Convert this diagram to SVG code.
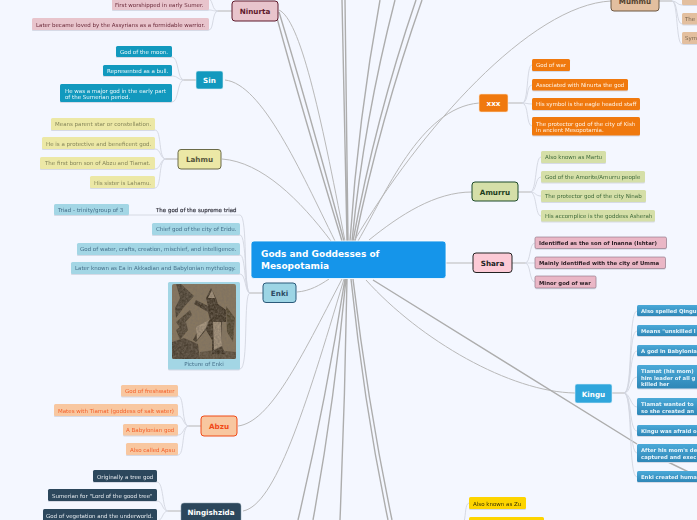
<svg xmlns="http://www.w3.org/2000/svg" width="697" height="520" viewBox="0 0 697 520">
<style>
text{font-family:"DejaVu Sans",Verdana,sans-serif;font-size:5.5px}
.t{font-size:7.2px;font-weight:bold;text-anchor:middle}
.m{fill:none;stroke:#b9b9b9;stroke-width:1}
.s{fill:none;stroke:#adadad;stroke-width:1.4}
.l{fill:none;stroke:#d3d6e0;stroke-width:.9}
.st{fill:none;stroke:#b5b5b5;stroke-width:1.2}
.shadow{filter:drop-shadow(0 1px 0 #d6dae6)}
</style>
<defs>
<linearGradient id="kg" x1="0" y1="0" x2="0" y2="1"><stop offset="0" stop-color="#4aa9d8"/><stop offset="1" stop-color="#2f87b7"/></linearGradient>
<filter id="noise" x="0" y="0" width="100%" height="100%"><feTurbulence type="fractalNoise" baseFrequency="0.45" numOctaves="2" seed="4"/><feColorMatrix values="0 0 0 0 .2 0 0 0 0 .16 0 0 0 0 .12 1.2 0 0 0 -.3"/></filter>
<filter id="soft" x="-10%" y="-10%" width="120%" height="120%"><feGaussianBlur stdDeviation=".6"/></filter>
<clipPath id="pc"><rect x="172" y="284" width="64" height="75" rx="2"/></clipPath>
</defs>
<rect width="697" height="520" fill="#f4f7ff"/>
<g id="connectors">
<path class="s" d="M277 18Q302 110 342 241M279 12Q306 100 344 241"/>
<path class="s" d="M342 0Q345 120 347 241M345 0Q346 120 348 241"/>
<path class="s" d="M380 0Q358 120 350 241M395 0Q364 120 352 241"/>
<path class="s" d="M416 0Q375 120 353 241M422 0Q380 120 355 241"/>
<path class="m" d="M279 10C300 20 320 110 345 241"/>
<path class="m" d="M225 80C262 84 300 170 335 241"/>
<path class="m" d="M222 159C262 162 300 200 331 241"/>
<path class="m" d="M297 292C310 291 320 285 329 279"/>
<path class="m" d="M238 426C270 422 300 360 342 279"/>
<path class="m" d="M243 511C275 505 305 410 344 279"/>
<path class="s" d="M345 279Q325 405 298 520M346 279Q334 405 313 520M347 279Q345 400 340 520"/>
<path class="s" d="M351 279Q364 405 388 520M353 279Q368 405 392 520"/>
<path class="m" d="M354 241C420 130 530 5 611 1"/>
<path class="m" d="M358 241C385 195 420 108 479 103"/>
<path class="m" d="M369 240C400 215 435 192 472 192"/>
<path class="m" d="M446 263H473"/>
<path class="m" d="M366 280C420 340 510 392 575 393"/>
<path class="s" d="M373 280L637 444M668 462L697 476"/>
<path class="st" d="M232 11H218M196 80H184M178 159H166M263 293H250M201 426H189M181 511H168M659 1H672M508 103H522M518 192H530M512 263H525M612 393H624"/>
<path class="l" d="M218 11C212 11 213 0 209 -1"/>
<path class="l" d="M218 11C212 11 213 10 209 10H112"/>
<path class="l" d="M218 11C212 11 214 30 209 30H32"/>
<path class="l" d="M184 80C177 80 179 57 172 57H116M184 80C178 80 178 76 172 76H103M184 80C177 80 179 102 172 102H60"/>
<path class="l" d="M166 159C158 159 162 130 155 130H51M166 159C160 159 161 149 155 149H42M166 159C160 159 161 169 155 169H40M166 159C158 159 162 188 155 188H90"/>
<path class="l" d="M250 293C243 293 248 215 240 215H54M250 293C244 293 247 235 240 235H152M250 293C244 293 246 255 240 255H77M250 293C245 293 246 274 240 274H71M250 293C243 293 249 369 240 369H168"/>
<path class="l" d="M189 426C181 426 185 396 178 396H121M189 426C183 426 184 416 178 416H54M189 426C183 426 184 435 178 435H123M189 426C181 426 185 455 178 455H126"/>
<path class="l" d="M168 511C162 511 164 482 157 482H93M168 511C162 511 163 501 157 501H48M168 511C162 511 163 521 157 521"/>
<path class="l" d="M672 1C677 1 677 5 682 5M672 1C678 1 676 24 682 24M672 1C678 1 676 44 682 44"/>
<path class="l" d="M522 103C529 103 526 65 532 65M522 103C529 103 526 85 532 85M522 103C527 103 527 104 532 104M522 103C529 103 526 126 532 126"/>
<path class="l" d="M530 192C537 192 535 157 541 157M530 192C537 192 535 177 541 177M530 192C536 192 535 196 541 196M530 192C537 192 535 216 541 216"/>
<path class="l" d="M525 263C531 263 529 243 535 243M525 263H535M525 263C531 263 529 282 535 282"/>
<path class="l" d="M624 393C633 393 628 311 637 311M624 393C633 393 628 331 637 331M624 393C632 393 629 351 637 351M624 393C631 393 630 377 637 377M624 393C630 393 631 407 637 407M624 393C632 393 629 431 637 431M624 393C632 393 629 453 637 453M624 393C633 393 628 477 637 477"/>
<path class="l" d="M469 503C465 504 466 514 464 522"/>
</g>
<g id="n-hub"><rect x="251" y="241" width="195" height="37.500" rx="3" fill="#1595ea" stroke="#fff" stroke-width=".8"/><text x="261" y="257" style="font-size:9px;font-weight:bold" fill="#fff">Gods and Goddesses of</text><text x="261" y="269" style="font-size:9px;font-weight:bold" fill="#fff">Mesopotamia</text></g>
<g id="n-ninurta"><rect x="232" y="1" width="46" height="20" rx="3" fill="#e8c4cc" stroke="#5e1a2c"/><text class="t" x="255" y="14" fill="#5e1a2c">Ninurta</text></g>
<g id="l-ninurta" fill="#e8c4cc" class="shadow"><rect x="112" y="-2" width="97" height="12" rx="1.500"/><rect x="32" y="18" width="177" height="12" rx="1.500"/><text x="115" y="7" fill="#6b2a3a">First worshipped in early Sumer.</text><text x="36" y="27" fill="#6b2a3a">Later became loved by the Assyrians as a formidable warrior.</text></g>
<g id="n-sin"><rect x="196" y="71" width="27" height="18" rx="2" fill="#1299be" stroke="#dff0f5" stroke-width=".6"/><text class="t" x="209.500" y="83" fill="#fff">Sin</text></g>
<g id="l-sin" fill="#1299be" class="shadow"><rect x="116" y="46" width="56" height="11" rx="1.500"/><rect x="103" y="65" width="69" height="11" rx="1.500"/><rect x="60" y="84" width="112" height="18" rx="1.500"/><g fill="#eaf7fb"><text x="120" y="54">God of the moon.</text><text x="107" y="73">Represented as a bull.</text><text x="65" y="93">He was a major god in the early part</text><text x="65" y="99">of the Sumerian period.</text></g></g>
<g id="n-lahmu"><rect x="178" y="149.500" width="43" height="19.500" rx="3" fill="#ece8a6" stroke="#6b6b48"/><text class="t" x="199.500" y="162" fill="#55553c">Lahmu</text></g>
<g id="l-lahmu" fill="#ece8a6" class="shadow"><rect x="51" y="118" width="104" height="12" rx="1.500"/><rect x="42" y="137" width="113" height="12" rx="1.500"/><rect x="40" y="157" width="115" height="12" rx="1.500"/><rect x="90" y="176" width="65" height="12" rx="1.500"/><g fill="#86865a"><text x="55" y="126">Means parent star or constellation.</text><text x="46" y="146">He is a protective and beneficent god.</text><text x="45" y="165">The first born son of Abzu and Tiamat.</text><text x="94" y="185">His sister is Lahamu.</text></g></g>
<g id="n-enki"><rect x="263" y="283" width="33" height="19.500" rx="3" fill="#9dd5e5" stroke="#2b5a7a"/><text class="t" x="279.500" y="296" fill="#2c4a62">Enki</text></g>
<g id="l-enki" fill="#a3d6e5" class="shadow"><rect x="54" y="204" width="75" height="11" rx="1.500"/><rect x="152" y="223" width="88" height="12" rx="1.500"/><rect x="77" y="243" width="163" height="12" rx="1.500"/><rect x="71" y="262" width="169" height="12" rx="1.500"/><rect x="168" y="282" width="72" height="87.500" rx="1.500"/><g fill="#46708a"><text x="58" y="212">Triad - trinity/group of 3</text><text x="156" y="231">Chief god of the city of Eridu.</text><text x="80" y="251">God of water, crafts, creation, mischief, and intelligence.</text><text x="75" y="270">Later known as Ea in Akkadian and Babylonian mythology.</text><text x="204" y="366" text-anchor="middle">Picture of Enki</text></g><text x="156" y="212" fill="#3a3a44" stroke="#3a3a44" stroke-width=".15">The god of the supreme triad</text></g>
<g id="enki-picture" clip-path="url(#pc)">
<rect x="172" y="284" width="64" height="75" fill="#87775f"/>
<g filter="url(#soft)">
<path d="M172 342L184 338L198 344L200 359H172Z" fill="#4c4030"/>
<path d="M200 352L214 350L236 352V359H200Z" fill="#5c4f3e"/>
<path d="M176 284L181 284L194 296L184 307L176 318L175 308L180 298Z" fill="#4a3f30"/>
<path d="M176 330L186 322L188 330L180 340ZM176 322L190 310L192 315L180 328Z" fill="#4e4333"/>
<path d="M211 288L216 298L218 304L226 310L226 322L222 322L222 346L225 354L212 354L212 340L206 330L196 342L193 340L200 326L210 320L208 312L194 304L196 300L208 306L206 298Z" fill="#3f3426"/>
<path d="M212 290L215 298L208 298ZM213 322L221 322L222 346L214 350Z" fill="#a6957e"/>
<path d="M196 327L209 320L206 328L197 340Z" fill="#a6957e"/>
<path d="M226 306L235 318L233 342L227 332Z" fill="#50442f"/>
</g>
<rect x="172" y="284" width="64" height="75" filter="url(#noise)"/>
</g>
<g id="n-abzu"><rect x="201" y="416" width="36" height="20" rx="3" fill="#f8c7a0" stroke="#f04a17"/><text class="t" x="219" y="429" fill="#f04a17">Abzu</text></g>
<g id="l-abzu" fill="#f8c7a0" class="shadow"><rect x="121" y="385" width="57" height="11.500" rx="1.500"/><rect x="54" y="404" width="124" height="12" rx="1.500"/><rect x="123" y="424" width="55" height="11.500" rx="1.500"/><rect x="126" y="443" width="52" height="12" rx="1.500"/><g fill="#f4602a"><text x="125" y="393">God of freshwater</text><text x="58" y="413">Mates with Tiamat (goddess of salt water)</text><text x="126" y="432">A Babylonian god</text><text x="130" y="452">Also called Apsu</text></g></g>
<g id="n-ningishzida"><rect x="181" y="503" width="60" height="24" rx="3" fill="#2c475c" stroke="#8fa0ad" stroke-width=".5"/><text class="t" x="211" y="515" fill="#fff">Ningishzida</text></g>
<g id="l-ningishzida" fill="#2c475c" class="shadow"><rect x="93" y="470" width="64" height="12" rx="1.500"/><rect x="48" y="489" width="109" height="12" rx="1.500"/><rect x="43" y="509" width="114" height="12" rx="1.500"/><g fill="#e4e9ee"><text x="97" y="479">Originally a tree god</text><text x="52" y="498">Sumerian for "Lord of the good tree"</text><text x="46" y="518">God of vegetation and the underworld.</text></g></g>
<g id="n-mummu"><rect x="611" y="-9" width="48" height="20" rx="3" fill="#e3bf9f" stroke="#6d5843"/><text class="t" x="635" y="4" fill="#55442f">Mummu</text></g>
<g id="l-mummu" fill="#e3bf9f" class="shadow"><rect x="682" y="-6" width="20" height="11" rx="1.500"/><rect x="682" y="13" width="20" height="11.500" rx="1.500"/><rect x="682" y="32" width="20" height="12" rx="1.500"/><g fill="#7a6650"><text x="685" y="21">The</text><text x="685" y="40">Sym</text></g></g>
<g id="n-xxx"><rect x="479" y="94" width="29" height="18" rx="2" fill="#f0790e" stroke="#fde6d2" stroke-width=".6"/><text class="t" x="493.500" y="106" fill="#fff">xxx</text></g>
<g id="l-xxx" fill="#f0790e" class="shadow"><rect x="532" y="59" width="38" height="12" rx="1.500"/><rect x="532" y="79" width="96" height="11.500" rx="1.500"/><rect x="532" y="98" width="108" height="12" rx="1.500"/><rect x="532" y="117" width="108" height="18.500" rx="1.500"/><g fill="#fff3e6"><text x="536" y="67">God of war</text><text x="536" y="87">Associated with Ninurta the god</text><text x="536" y="106">His symbol is the eagle headed staff</text><text x="536" y="126">The protector god of the city of Kish</text><text x="536" y="132">in ancient Mesopotamia.</text></g></g>
<g id="n-amurru"><rect x="472" y="182" width="46" height="19" rx="3" fill="#d5dfa8" stroke="#1d4a2a"/><text class="t" x="495" y="195" fill="#1d3d1d">Amurru</text></g>
<g id="l-amurru" fill="#d5dfa8" class="shadow"><rect x="541" y="151" width="65" height="12" rx="1.500"/><rect x="541" y="171" width="104" height="11.500" rx="1.500"/><rect x="541" y="190" width="105" height="12" rx="1.500"/><rect x="541" y="210" width="114" height="11.500" rx="1.500"/><g fill="#3f6a3a"><text x="545" y="159">Also known as Martu</text><text x="545" y="179">God of the Amorite/Amurru people</text><text x="545" y="198">The protector god of the city Ninab</text><text x="545" y="218">His accomplice is the goddess Asherah</text></g></g>
<g id="n-shara"><rect x="473" y="253" width="39" height="19.500" rx="3" fill="#fccad6" stroke="#222"/><text class="t" x="492.500" y="266" fill="#222">Shara</text></g>
<g id="l-shara" fill="#eab7c6" stroke="#8a7080" stroke-width=".6" class="shadow"><rect x="535" y="237" width="131.500" height="11.500" rx="1.500"/><rect x="535" y="257" width="130.500" height="11.500" rx="1.500"/><rect x="535" y="276" width="61" height="12" rx="1.500"/><g fill="#2a1e24" stroke="none" style="font-weight:bold;font-size:5.4px"><text x="539" y="245" style="font-size:5.4px">Identified as the son of Inanna (Ishtar)</text><text x="539" y="265" style="font-size:5.4px">Mainly identified with the city of Umma</text><text x="539" y="285" style="font-size:5.4px">Minor god of war</text></g></g>
<g id="n-kingu"><rect x="575" y="384" width="37" height="19" rx="2" fill="#2fa6dc" stroke="#dcf0fa" stroke-width=".6"/><text class="t" x="593.500" y="396.500" fill="#fff">Kingu</text></g>
<g id="l-kingu" fill="url(#kg)" class="shadow"><rect x="637" y="305" width="70" height="11" rx="1.500"/><rect x="637" y="325" width="70" height="11" rx="1.500"/><rect x="637" y="345" width="70" height="11" rx="1.500"/><rect x="637" y="365" width="70" height="23.500" rx="1.500"/><rect x="637" y="398" width="70" height="17" rx="1.500"/><rect x="637" y="425" width="70" height="11" rx="1.500"/><rect x="637" y="444" width="70" height="18" rx="1.500"/><rect x="637" y="471" width="70" height="11" rx="1.500"/><g fill="#e6f4fb" font-weight="bold"><text x="641" y="313" style="font-size:5.3px">Also spelled Qingu</text><text x="641" y="333" style="font-size:5.3px">Means "unskilled l</text><text x="641" y="353" style="font-size:5.3px">A god in Babylonia</text><text x="641" y="373" style="font-size:5.3px">Tiamat (his mom)</text><text x="641" y="380" style="font-size:5.3px">him leader of all g</text><text x="641" y="386" style="font-size:5.3px">killed her</text><text x="641" y="406" style="font-size:5.3px">Tiamat wanted to</text><text x="641" y="413" style="font-size:5.3px">so she created an</text><text x="641" y="433" style="font-size:5.3px">Kingu was afraid o</text><text x="641" y="452" style="font-size:5.3px">After his mom's de</text><text x="641" y="459" style="font-size:5.3px">captured and exec</text><text x="641" y="479" style="font-size:5.3px">Enki created huma</text></g></g>
<g id="l-zu" fill="#fdd400" class="shadow"><rect x="469" y="497" width="57" height="12" rx="1.500"/><rect x="469" y="517" width="75" height="12" rx="1.500"/><text x="473" y="506" fill="#3a3200">Also known as Zu</text></g>
</svg>
